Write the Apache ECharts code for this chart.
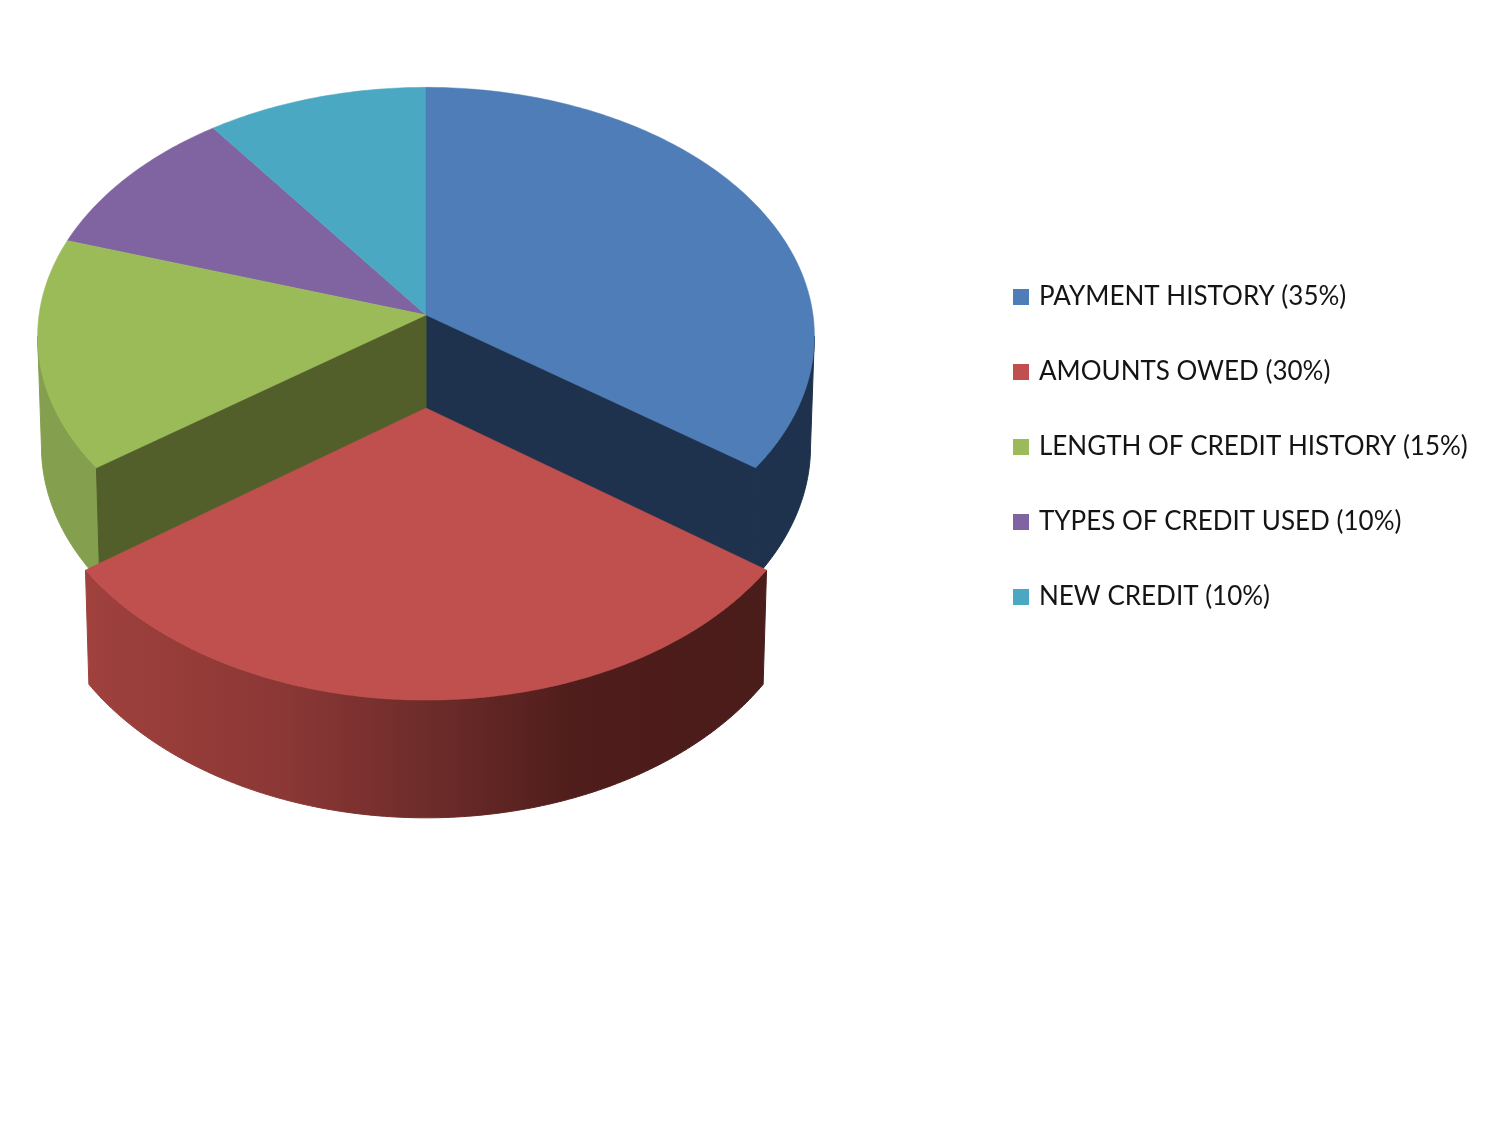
<!DOCTYPE html>
<html><head><meta charset="utf-8">
<style>html,body{margin:0;padding:0;background:#fff}#c{width:1500px;height:1125px}</style>
<script src="https://cdn.jsdelivr.net/npm/echarts@6/dist/echarts.min.js"></script>
</head><body><div id="c"></div>
<script>
const categories = ['PAYMENT HISTORY (35%)','AMOUNTS OWED (30%)','LENGTH OF CREDIT HISTORY (15%)','TYPES OF CREDIT USED (10%)','NEW CREDIT (10%)'];
const shares = [35, 30, 15, 10, 10];
const topColors = ['#4e7db8','#c0504d','#9bbb59','#8064a2','#4aa8c3'];
const sideColors = ['#1e324d',null,'#84a04f',null,null];
const wallColors = ['#1e324d',null,'#525f2b',null,null];
const drawOrder = [3,4,0,2,1];

const chart = echarts.init(document.getElementById('c'), null, {renderer:'canvas'});
const total = shares.reduce((a,b)=>a+b,0);
const CX = 426, CY = 315, DEPTH = 110, SHRINK = 0.99;
const VIEW = {R:387, H:247, k:0.085}, EXPLODED = {R:389.5, H:255, k:0.127, dy:93};
const startOf = i => shares.slice(0,i).reduce((a,b)=>a+b,0)/total*Math.PI*2;

function project(theta, radius, view, lower){
  const u = Math.sin(theta)*radius, v = -Math.cos(theta)*radius;
  const s = 1/(1 - view.k*v);
  const dy = view.dy || 0;
  let x = view.R*u*s, y = view.H*v*s + dy;
  if(lower){ x *= SHRINK; y += DEPTH*Math.sqrt(s); }
  return [CX + x, CY + y];
}
function arc(a,b,view,lower){
  const n = Math.max(4,Math.round((b-a)*80)), pts=[];
  for(let j=0;j<=n;j++) pts.push(project(a+(b-a)*j/n,1,view,lower));
  return pts;
}
function poly(points,fill,width){
  return {type:'polygon',silent:true,shape:{points},style:{fill,stroke:fill,lineWidth:width||0.5}};
}
function outerWall(a,b,view,fill){
  const front0 = Math.PI/2 + Math.asin(view.k), front1 = 3*Math.PI/2 - Math.asin(view.k);
  const from = Math.max(a,front0), to = Math.min(b,front1);
  return poly(arc(from,to,view,false).concat(arc(from,to,view,true).reverse()),fill,1);
}
function makeRender(i){
  return function(){
    const a = startOf(i), b = a + shares[i]/total*Math.PI*2;
    const view = i===1 ? EXPLODED : VIEW;
    const centre = project(0,0,view,false), centreLow = project(0,0,view,true);
    const children = [];
    if(i===1){
      const fill = new echarts.graphic.LinearGradient(0,0,1,0,[
        {offset:0,color:'#a0413d'},{offset:0.3,color:'#8a3735'},{offset:0.5,color:'#6e2c2a'},
        {offset:0.72,color:'#4f1d1b'},{offset:1,color:'#4a1c1a'}]);
      children.push(outerWall(a,b,view,fill));
    } else if(sideColors[i]){
      children.push(outerWall(a,b,view,sideColors[i]));
      const edge = i===0 ? b : a;
      children.push(poly([centre,project(edge,1,view,false),project(edge,1,view,true),centreLow],wallColors[i],1));
    }
    children.push(poly([centre].concat(arc(a,b,view,false)),topColors[i]));
    return {type:'group',children};
  };
}
chart.setOption({
  animation:false,
  backgroundColor:'#ffffff',
  legend:{
    show:true,left:1013,top:280,padding:0,orient:'vertical',icon:'rect',
    itemWidth:16,itemHeight:16,itemGap:41,
    data:categories,selectedMode:false,
    textStyle:{fontFamily:'Lato',fontSize:26,lineHeight:34,color:'#141414',padding:[0,0,0,5]}
  },
  series:drawOrder.map((i,z)=>({
    type:'custom',name:categories[i],coordinateSystem:'none',z:2+z,silent:true,
    itemStyle:{color:topColors[i]},
    data:[shares[i]],renderItem:makeRender(i)
  }))
});
</script></body></html>
